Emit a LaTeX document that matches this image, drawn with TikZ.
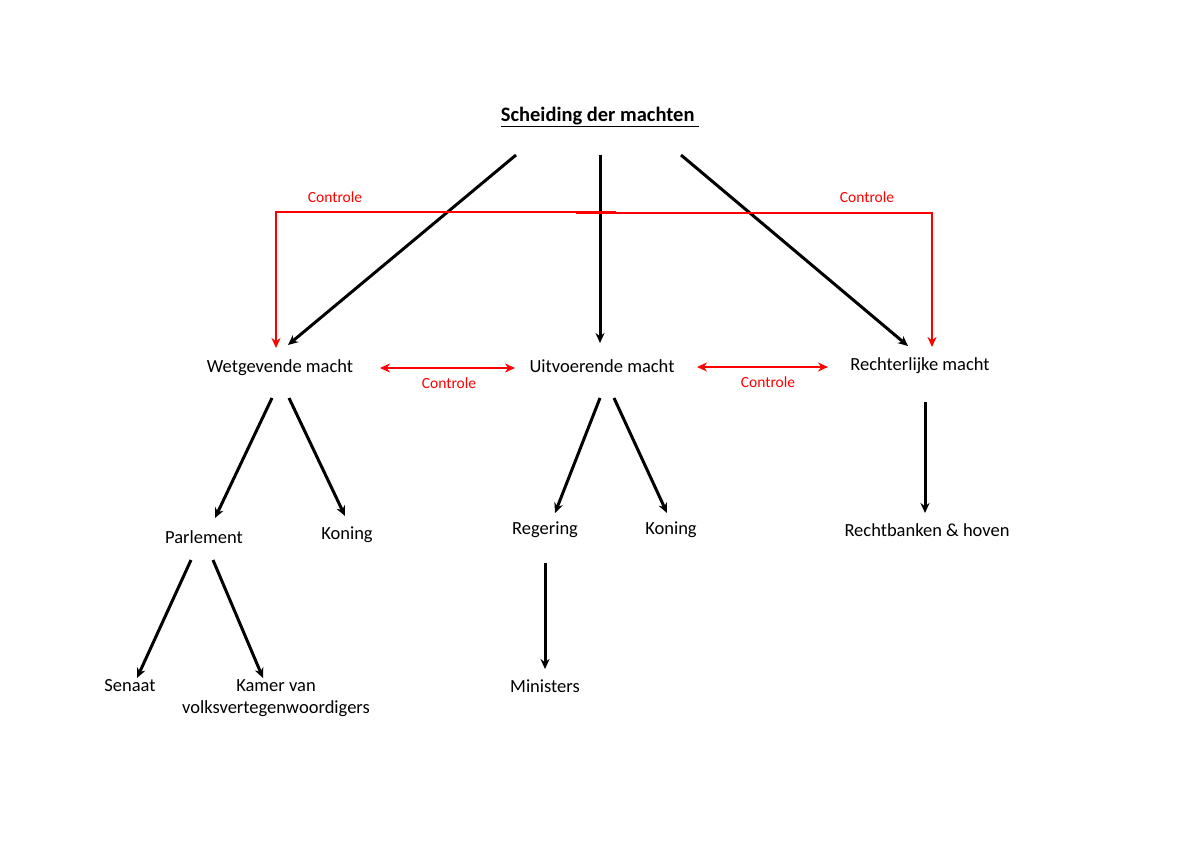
\documentclass[tikz,border=0pt]{standalone}
\usepackage{fontspec}
\setmainfont{Carlito}
\usetikzlibrary{arrows.meta}
\begin{document}
\begin{tikzpicture}[x=1pt,y=-1pt,
  lbl/.style={font=\fontsize{18.5}{22}\selectfont,inner sep=0pt},
  rl/.style={font=\fontsize{15.5}{18}\selectfont,text=red,inner sep=0pt},
  arr/.style={line width=3pt,-{Stealth[length=10pt,width=9pt]}},
  rarr/.style={red,line width=2.8pt,-{Stealth[length=10pt,width=9pt]}},
  rline/.style={red,line width=2.8pt}]
\useasboundingbox (0,0) rectangle (1200,848);
\node[lbl,font=\fontsize{20.5}{24}\selectfont\bfseries] (t) at (600,117) {\underline{Scheiding der machten\ }};
\node[lbl] (w) at (280,368) {Wetgevende macht};
\node[lbl] (u) at (602,366) {Uitvoerende macht};
\node[lbl] (r) at (920,366) {Rechterlijke macht};
\node[lbl] (p) at (204,537) {Parlement};
\node[lbl] (k1) at (347,535) {Koning};
\node[lbl] (rg) at (545,530) {Regering};
\node[lbl] (k2) at (671,530) {Koning};
\node[lbl] (rb) at (927,530) {Rechtbanken \& hoven};
\node[lbl] (s) at (130,686) {Senaat};
\node[lbl,align=center] (k) at (276,698) {Kamer van\\volksvertegenwoordigers};
\node[lbl] (m) at (545,686) {Ministers};
\node[rl] (c1) at (335,197) {Controle};
\node[rl] (c2) at (867,197) {Controle};
\node[rl] (c3) at (449,383) {Controle};
\node[rl] (c4) at (768,382) {Controle};
\coordinate (a1) at (516,155); \coordinate (a2) at (600,155); \coordinate (a3) at (681,155);
\draw[arr] (a1) -- (288,345);
\draw[arr] (a2) -- (600,343);
\draw[arr] (a3) -- (908,346);
\draw[rarr] (616,212) -- (276,212) -- (276,348);
\draw[rarr] (576,213) -- (932,213) -- (932,347);
\draw[rarr,{Stealth[length=10pt,width=9pt]}-{Stealth[length=10pt,width=9pt]}] (380,368) -- (515,368);
\draw[rarr,{Stealth[length=10pt,width=9pt]}-{Stealth[length=10pt,width=9pt]}] (697,367) -- (828,367);
\draw[arr] (272,398) -- (215,518);
\draw[arr] (289,398) -- (345,516);
\draw[arr] (600,398) -- (555,513);
\draw[arr] (614,398) -- (667,513);
\draw[arr] (925,402) -- (925,513);
\draw[arr] (191,560) -- (137,678);
\draw[arr] (213,560) -- (263,678);
\draw[arr] (545,563) -- (545,669);
\end{tikzpicture}
\end{document}
